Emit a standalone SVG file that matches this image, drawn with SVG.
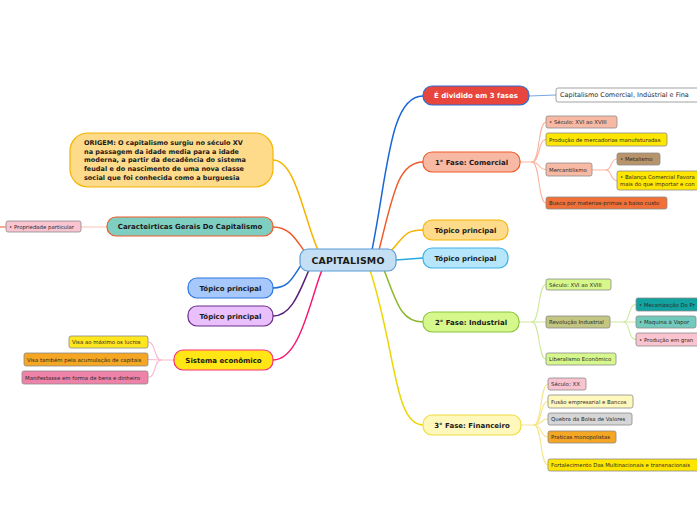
<svg xmlns="http://www.w3.org/2000/svg" width="697" height="520" viewBox="0 0 697 520">
<style>
.c{fill:none;stroke-linecap:round}
.m{stroke-width:1.5}
.s{stroke-width:1.1}
.t{font-family:"DejaVu Sans",Verdana,sans-serif;font-weight:bold;font-size:7px;fill:#1a1a1a;text-anchor:middle}
.sm{font-family:"DejaVu Sans",Verdana,sans-serif;font-size:5.4px;fill:#2a2a2a}
.b{stroke:#8a8a8a;stroke-width:0.8}
</style>
<rect width="697" height="520" fill="#ffffff"/>
<g id="connectors">
<path class="c m" stroke="#1a66d6" d="M372,250 C388,170 390,96 423,96"/>
<path class="c m" stroke="#f05a28" d="M379,250 C393,195 398,162 423,162"/>
<path class="c m" stroke="#f5b400" d="M390,252 C405,236 405,230 423,230"/>
<path class="c m" stroke="#29a9e0" d="M396,260 L423,258"/>
<path class="c m" stroke="#8ab82a" d="M384,270 C396,300 400,322 423,322"/>
<path class="c m" stroke="#ecd600" d="M370,270 C396,350 394,425 423,425"/>
<path class="c m" stroke="#f5b400" d="M273,160 C296,160 304,220 318,250"/>
<path class="c m" stroke="#f05a28" d="M273,227 C290,227 296,240 305,252"/>
<path class="c m" stroke="#1e6fd9" d="M273,288 C290,288 293,276 302,264"/>
<path class="c m" stroke="#5a1f7a" d="M273,316 C292,316 300,290 309,270"/>
<path class="c m" stroke="#f5176f" d="M273,360 C300,360 310,300 322,270"/>
<path class="c s" stroke="#7aa6e2" d="M529,96 L556,95"/>
<path class="c s" stroke="#fcc4b4" d="M107,227 L81,227"/>
<path class="c s" stroke="#f05a28" d="M0,227 L6,227"/>
<g stroke="#fbb49f">
<path class="c s" d="M520,162 L532,162 C540,162 538,122 546,122"/>
<path class="c s" d="M532,162 C540,162 538,139.5 546,139.5"/>
<path class="c s" d="M532,162 C540,162 538,169.5 546,169.5"/>
<path class="c s" d="M532,162 C540,162 538,203 546,203"/>
<path class="c s" d="M592,170 L606,170 C612,170 610,159 617,159"/>
<path class="c s" d="M606,170 C612,170 610,180.5 617,180.5"/>
</g>
<g stroke="#cfe89b">
<path class="c s" d="M519,322 L532,322 C540,322 538,284.5 546,284.5"/>
<path class="c s" d="M532,322 L546,322"/>
<path class="c s" d="M532,322 C540,322 538,359 546,359"/>
<path class="c s" d="M610,322 L624,322 C630,322 628,304.5 636,304.5"/>
<path class="c s" d="M624,322 L636,322"/>
<path class="c s" d="M624,322 C630,322 628,339.5 636,339.5"/>
</g>
<g stroke="#f5e58a">
<path class="c s" d="M521,425 L534,425 C542,425 540,384 548,384"/>
<path class="c s" d="M534,425 C542,425 540,401.5 548,401.5"/>
<path class="c s" d="M534,425 C542,425 540,419 548,419"/>
<path class="c s" d="M534,425 C542,425 540,437 548,437"/>
<path class="c s" d="M534,425 C542,425 540,465 548,465"/>
</g>
<g stroke="#f9b6cf">
<path class="c s" d="M174,360 L161,360 C154,360 156,342 148,342"/>
<path class="c s" d="M161,360 L148,359.5"/>
<path class="c s" d="M161,360 C154,360 156,377.5 148,377.5"/>
</g>
</g>
<g id="center">
<rect x="300" y="249" width="96" height="22" rx="8" fill="#c4def3" stroke="#5b9bd5" stroke-width="1.2"/>
<text class="t" x="348" y="263.5" style="font-size:9.4px;letter-spacing:0.2px">CAPITALISMO</text>
</g>
<g id="fases3">
<rect x="423" y="86" width="106" height="19" rx="9" fill="#e8453c" stroke="#2a6fd6" stroke-width="1.2"/>
<text class="t" x="476" y="98" style="fill:#ffffff">É dividido em 3 fases</text>
</g>
<g id="fases3-desc">
<rect x="556" y="88" width="150" height="14" rx="2" fill="#ffffff" class="b"/>
<text class="sm" x="560" y="97.3" style="font-size:6.5px">Capitalismo Comercial, Indústrial e Fina</text>
</g>
<g id="fase1">
<rect x="423" y="152" width="97" height="20" rx="9" fill="#f8b9a4" stroke="#f05a28" stroke-width="1.2"/>
<text class="t" x="471.5" y="164.5">1° Fase: Comercial</text>
</g>
<g id="f1-seculo"><rect x="546" y="116" width="71" height="12" rx="2" fill="#f8b9a4" class="b"/><text class="sm" x="549" y="124">• Século: XVI ao XVIII</text></g>
<g id="f1-producao"><rect x="546" y="133" width="121" height="13" rx="2" fill="#ffe600" class="b"/><text class="sm" x="549" y="141.5">Produção de mercadorias manufaturadas</text></g>
<g id="f1-mercantilismo"><rect x="546" y="163" width="46" height="13" rx="2" fill="#f8b9a4" class="b"/><text class="sm" x="549" y="171.5">Mercantilismo</text></g>
<g id="f1-metalismo"><rect x="617" y="153" width="43" height="12" rx="2" fill="#b8946a" class="b"/><text class="sm" x="620" y="161">• Metalismo</text></g>
<g id="f1-balanca"><rect x="617" y="171" width="95" height="19" rx="2" fill="#ffe600" class="b"/><text class="sm" x="620" y="178.5">• Balança Comercial Favora</text><text class="sm" x="620" y="186.3">mais do que importar e con</text></g>
<g id="f1-busca"><rect x="546" y="197" width="121" height="12" rx="2" fill="#f07038" class="b"/><text class="sm" x="549" y="205">Busca por materias-primas a baixo custo</text></g>
<g id="topico-amarelo">
<rect x="423" y="220" width="85" height="20" rx="9" fill="#fedb8a" stroke="#f5b400" stroke-width="1.2"/>
<text class="t" x="465.5" y="232.5">Tópico principal</text>
</g>
<g id="topico-azulclaro">
<rect x="423" y="248" width="85" height="20" rx="9" fill="#b5e6fb" stroke="#3cb2e8" stroke-width="1.2"/>
<text class="t" x="465.5" y="260.5">Tópico principal</text>
</g>
<g id="fase2">
<rect x="423" y="312" width="96" height="20" rx="9" fill="#d5f78b" stroke="#8cc63f" stroke-width="1.2"/>
<text class="t" x="471" y="324.5">2° Fase: Industrial</text>
</g>
<g id="f2-seculo"><rect x="546" y="279" width="65" height="11" rx="2" fill="#d5f78b" class="b"/><text class="sm" x="549" y="286.8">Século: XVI ao XVIII</text></g>
<g id="f2-revolucao"><rect x="546" y="316" width="64" height="12" rx="2" fill="#c2c680" class="b"/><text class="sm" x="549" y="324">Revolução Industrial</text></g>
<g id="f2-mecanizacao"><rect x="636" y="298" width="75" height="13" rx="2" fill="#12a3a0" class="b"/><text class="sm" x="639" y="306.5">• Mecanização Do Pr</text></g>
<g id="f2-maquina"><rect x="636" y="316" width="60" height="12" rx="2" fill="#70cbbd" class="b"/><text class="sm" x="639" y="324">• Maquina à Vapor</text></g>
<g id="f2-producao"><rect x="636" y="333" width="80" height="13" rx="2" fill="#f9c3d0" class="b"/><text class="sm" x="639" y="341.5">• Produção em gran</text></g>
<g id="f2-liberalismo"><rect x="546" y="353" width="70" height="12" rx="2" fill="#d5f78b" class="b"/><text class="sm" x="549" y="361">Liberalismo Econômico</text></g>
<g id="fase3">
<rect x="423" y="415" width="98" height="20" rx="9" fill="#fff8bd" stroke="#f0dc3c" stroke-width="1.2"/>
<text class="t" x="472" y="427.5">3° Fase: Financeiro</text>
</g>
<g id="f3-seculo"><rect x="548" y="378" width="38" height="12" rx="2" fill="#f9c3d0" class="b"/><text class="sm" x="551" y="386">Século: XX</text></g>
<g id="f3-fusao"><rect x="548" y="395" width="85" height="13" rx="2" fill="#fff8bd" class="b"/><text class="sm" x="551" y="403.5">Fusão empresarial e Bancos</text></g>
<g id="f3-quebra"><rect x="548" y="413" width="84" height="12" rx="2" fill="#d6d6d6" class="b"/><text class="sm" x="551" y="421">Quebra da Bolsa de Valores</text></g>
<g id="f3-praticas"><rect x="548" y="431" width="68" height="12" rx="2" fill="#f5a623" class="b"/><text class="sm" x="551" y="439">Praticas monopolistas</text></g>
<g id="f3-fortalecimento"><rect x="548" y="459" width="152" height="12" rx="2" fill="#ffe600" class="b"/><text class="sm" x="551" y="467">Fortalecimento Das Multinacionais e transnacionais</text></g>
<g id="origem">
<rect x="70" y="133" width="203" height="54" rx="18" fill="#fedb8a" stroke="#f5b400" stroke-width="1.2"/>
<g class="t" style="text-anchor:start;font-size:6.5px">
<text x="84" y="145">ORIGEM: O capitalismo surgiu no século XV</text>
<text x="84" y="153.7">na passagem da idade media para a idade</text>
<text x="84" y="162.4">moderna,  a partir da decadência do sistema</text>
<text x="84" y="171.1">feudal e do nascimento de uma nova classe</text>
<text x="84" y="179.8">social que foi conhecida como a burguesia</text>
</g>
</g>
<g id="caracteristicas">
<rect x="107" y="217" width="166" height="19" rx="9" fill="#7ecfc1" stroke="#f05a28" stroke-width="1.2"/>
<text class="t" x="190" y="229">Caracteirticas Gerais Do Capitalismo</text>
</g>
<g id="propriedade"><rect x="6" y="221" width="75" height="11" rx="2" fill="#f9c3d0" class="b"/><text class="sm" x="9" y="228.8">• Propriedade particular</text></g>
<g id="topico-azul">
<rect x="188" y="278" width="85" height="20" rx="9" fill="#a6c8fb" stroke="#2a76e2" stroke-width="1.2"/>
<text class="t" x="230.5" y="290.5">Tópico principal</text>
</g>
<g id="topico-roxo">
<rect x="188" y="306" width="85" height="20" rx="9" fill="#e9c0fb" stroke="#6a2c8a" stroke-width="1.2"/>
<text class="t" x="230.5" y="318.5">Tópico principal</text>
</g>
<g id="sistema">
<rect x="174" y="350" width="99" height="20" rx="9" fill="#ffe614" stroke="#ff2a7a" stroke-width="1.2"/>
<text class="t" x="223.5" y="362.5">Sistema econômico</text>
</g>
<g id="s-lucros"><rect x="69" y="336" width="79" height="12" rx="2" fill="#ffe61e" class="b"/><text class="sm" x="72" y="344">Visa ao máximo os lucros</text></g>
<g id="s-acumulacao"><rect x="24" y="353" width="124" height="13" rx="2" fill="#f5a623" class="b"/><text class="sm" x="27" y="361.5">Visa também pela acumulação de capitais</text></g>
<g id="s-manifesta"><rect x="22" y="371" width="126" height="13" rx="2" fill="#ee82a9" class="b"/><text class="sm" x="25" y="379.5">Manifestasse em forma de bens e dinheiro</text></g>
</svg>
